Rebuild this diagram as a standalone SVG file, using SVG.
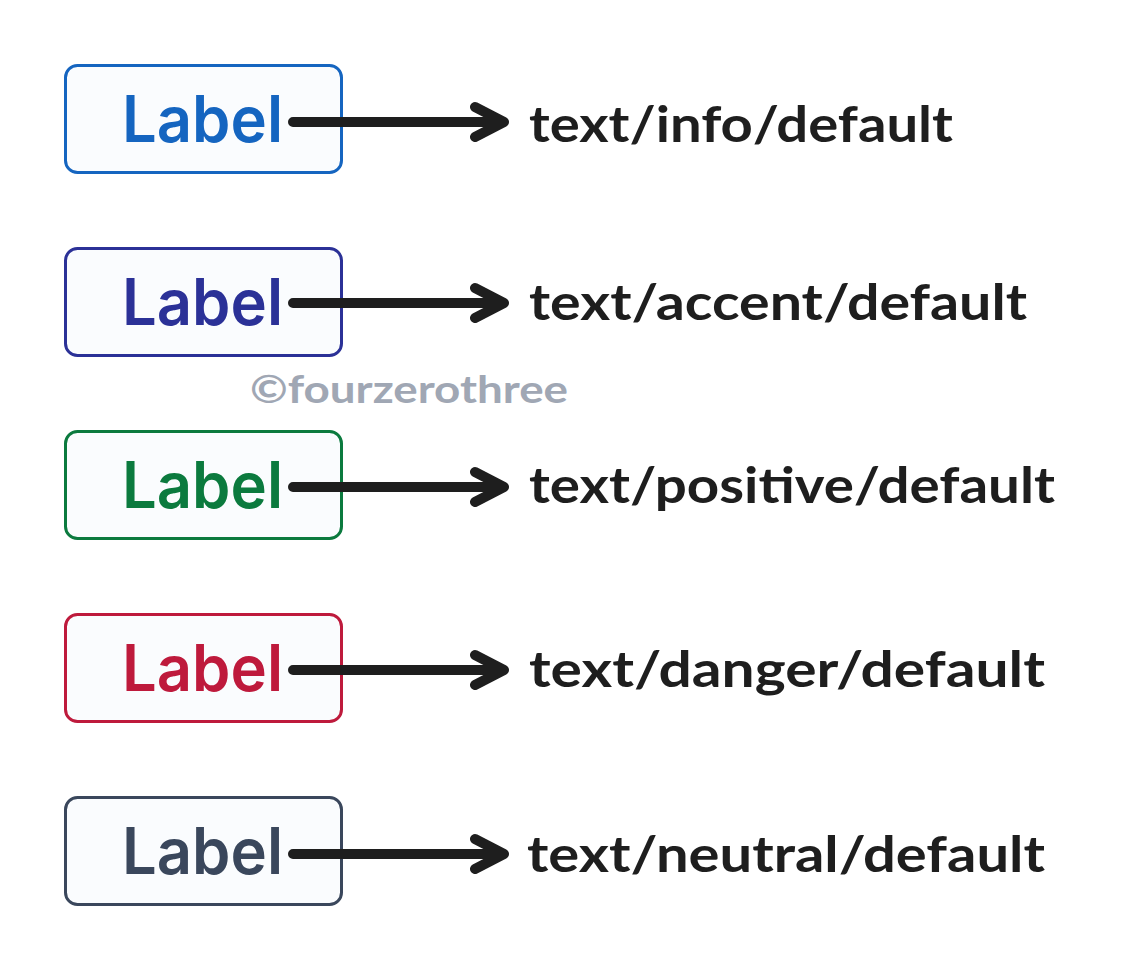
<svg xmlns="http://www.w3.org/2000/svg" width="1124" height="969" viewBox="0 0 1124 969">
<style>
.box{fill:#fafcfe;stroke-width:3}
.lbl{font-family:Inter,"Liberation Sans",Arial,sans-serif;font-weight:600;font-size:64px}
.tok{font-family:Lato,"Noto Sans",sans-serif;font-weight:bold;font-size:50px;fill:#1e1e1e}
.arr{fill:none;stroke:#1e1e1e;stroke-width:10;stroke-linecap:round;stroke-linejoin:round}
.wm{font-family:Lato,"Noto Sans",sans-serif;font-weight:bold;font-size:38px;fill:#a0a7b4}
</style>
<rect width="1124" height="969" fill="#ffffff"/>
<g id="node-info">
<rect class="box" x="65.5" y="65.5" width="276" height="107" rx="12" stroke="#1565c0"/>
<text class="lbl" x="122" y="142" fill="#1565c0" textLength="161" lengthAdjust="spacingAndGlyphs">Label</text>
</g>
<g id="node-accent">
<rect class="box" x="65.5" y="248.5" width="276" height="107" rx="12" stroke="#2b3197"/>
<text class="lbl" x="122" y="325" fill="#2b3197" textLength="161" lengthAdjust="spacingAndGlyphs">Label</text>
</g>
<g id="node-positive">
<rect class="box" x="65.5" y="431.5" width="276" height="107" rx="12" stroke="#0b7a3e"/>
<text class="lbl" x="122" y="508" fill="#0b7a3e" textLength="161" lengthAdjust="spacingAndGlyphs">Label</text>
</g>
<g id="node-danger">
<rect class="box" x="65.5" y="614.5" width="276" height="107" rx="12" stroke="#be1a3c"/>
<text class="lbl" x="122" y="691" fill="#be1a3c" textLength="161" lengthAdjust="spacingAndGlyphs">Label</text>
</g>
<g id="node-neutral">
<rect class="box" x="65.5" y="797.5" width="276" height="107" rx="12" stroke="#3a475c"/>
<text class="lbl" x="122" y="874" fill="#3a475c" textLength="161" lengthAdjust="spacingAndGlyphs">Label</text>
</g>
<g id="connectors">
<path class="arr" d="M293 122H504M475 107L504 122L475 137"/>
<path class="arr" d="M293 303H504M475 288L504 303L475 318"/>
<path class="arr" d="M293 487H504M475 472L504 487L475 502"/>
<path class="arr" d="M293 670H504M475 655L504 670L475 685"/>
<path class="arr" d="M293 854H504M475 839L504 854L475 869"/>
</g>
<g id="tokens">
<text class="tok" x="529" y="142" textLength="424" lengthAdjust="spacingAndGlyphs">text/info/default</text>
<text class="tok" x="529" y="320" textLength="498" lengthAdjust="spacingAndGlyphs">text/accent/default</text>
<text class="tok" x="529" y="503" textLength="526" lengthAdjust="spacingAndGlyphs">text/positive/default</text>
<text class="tok" x="529" y="687" textLength="516" lengthAdjust="spacingAndGlyphs">text/danger/default</text>
<text class="tok" x="527" y="872" textLength="518" lengthAdjust="spacingAndGlyphs">text/neutral/default</text>
</g>
<text class="wm" x="250" y="403" textLength="318" lengthAdjust="spacingAndGlyphs">©fourzerothree</text>
</svg>
